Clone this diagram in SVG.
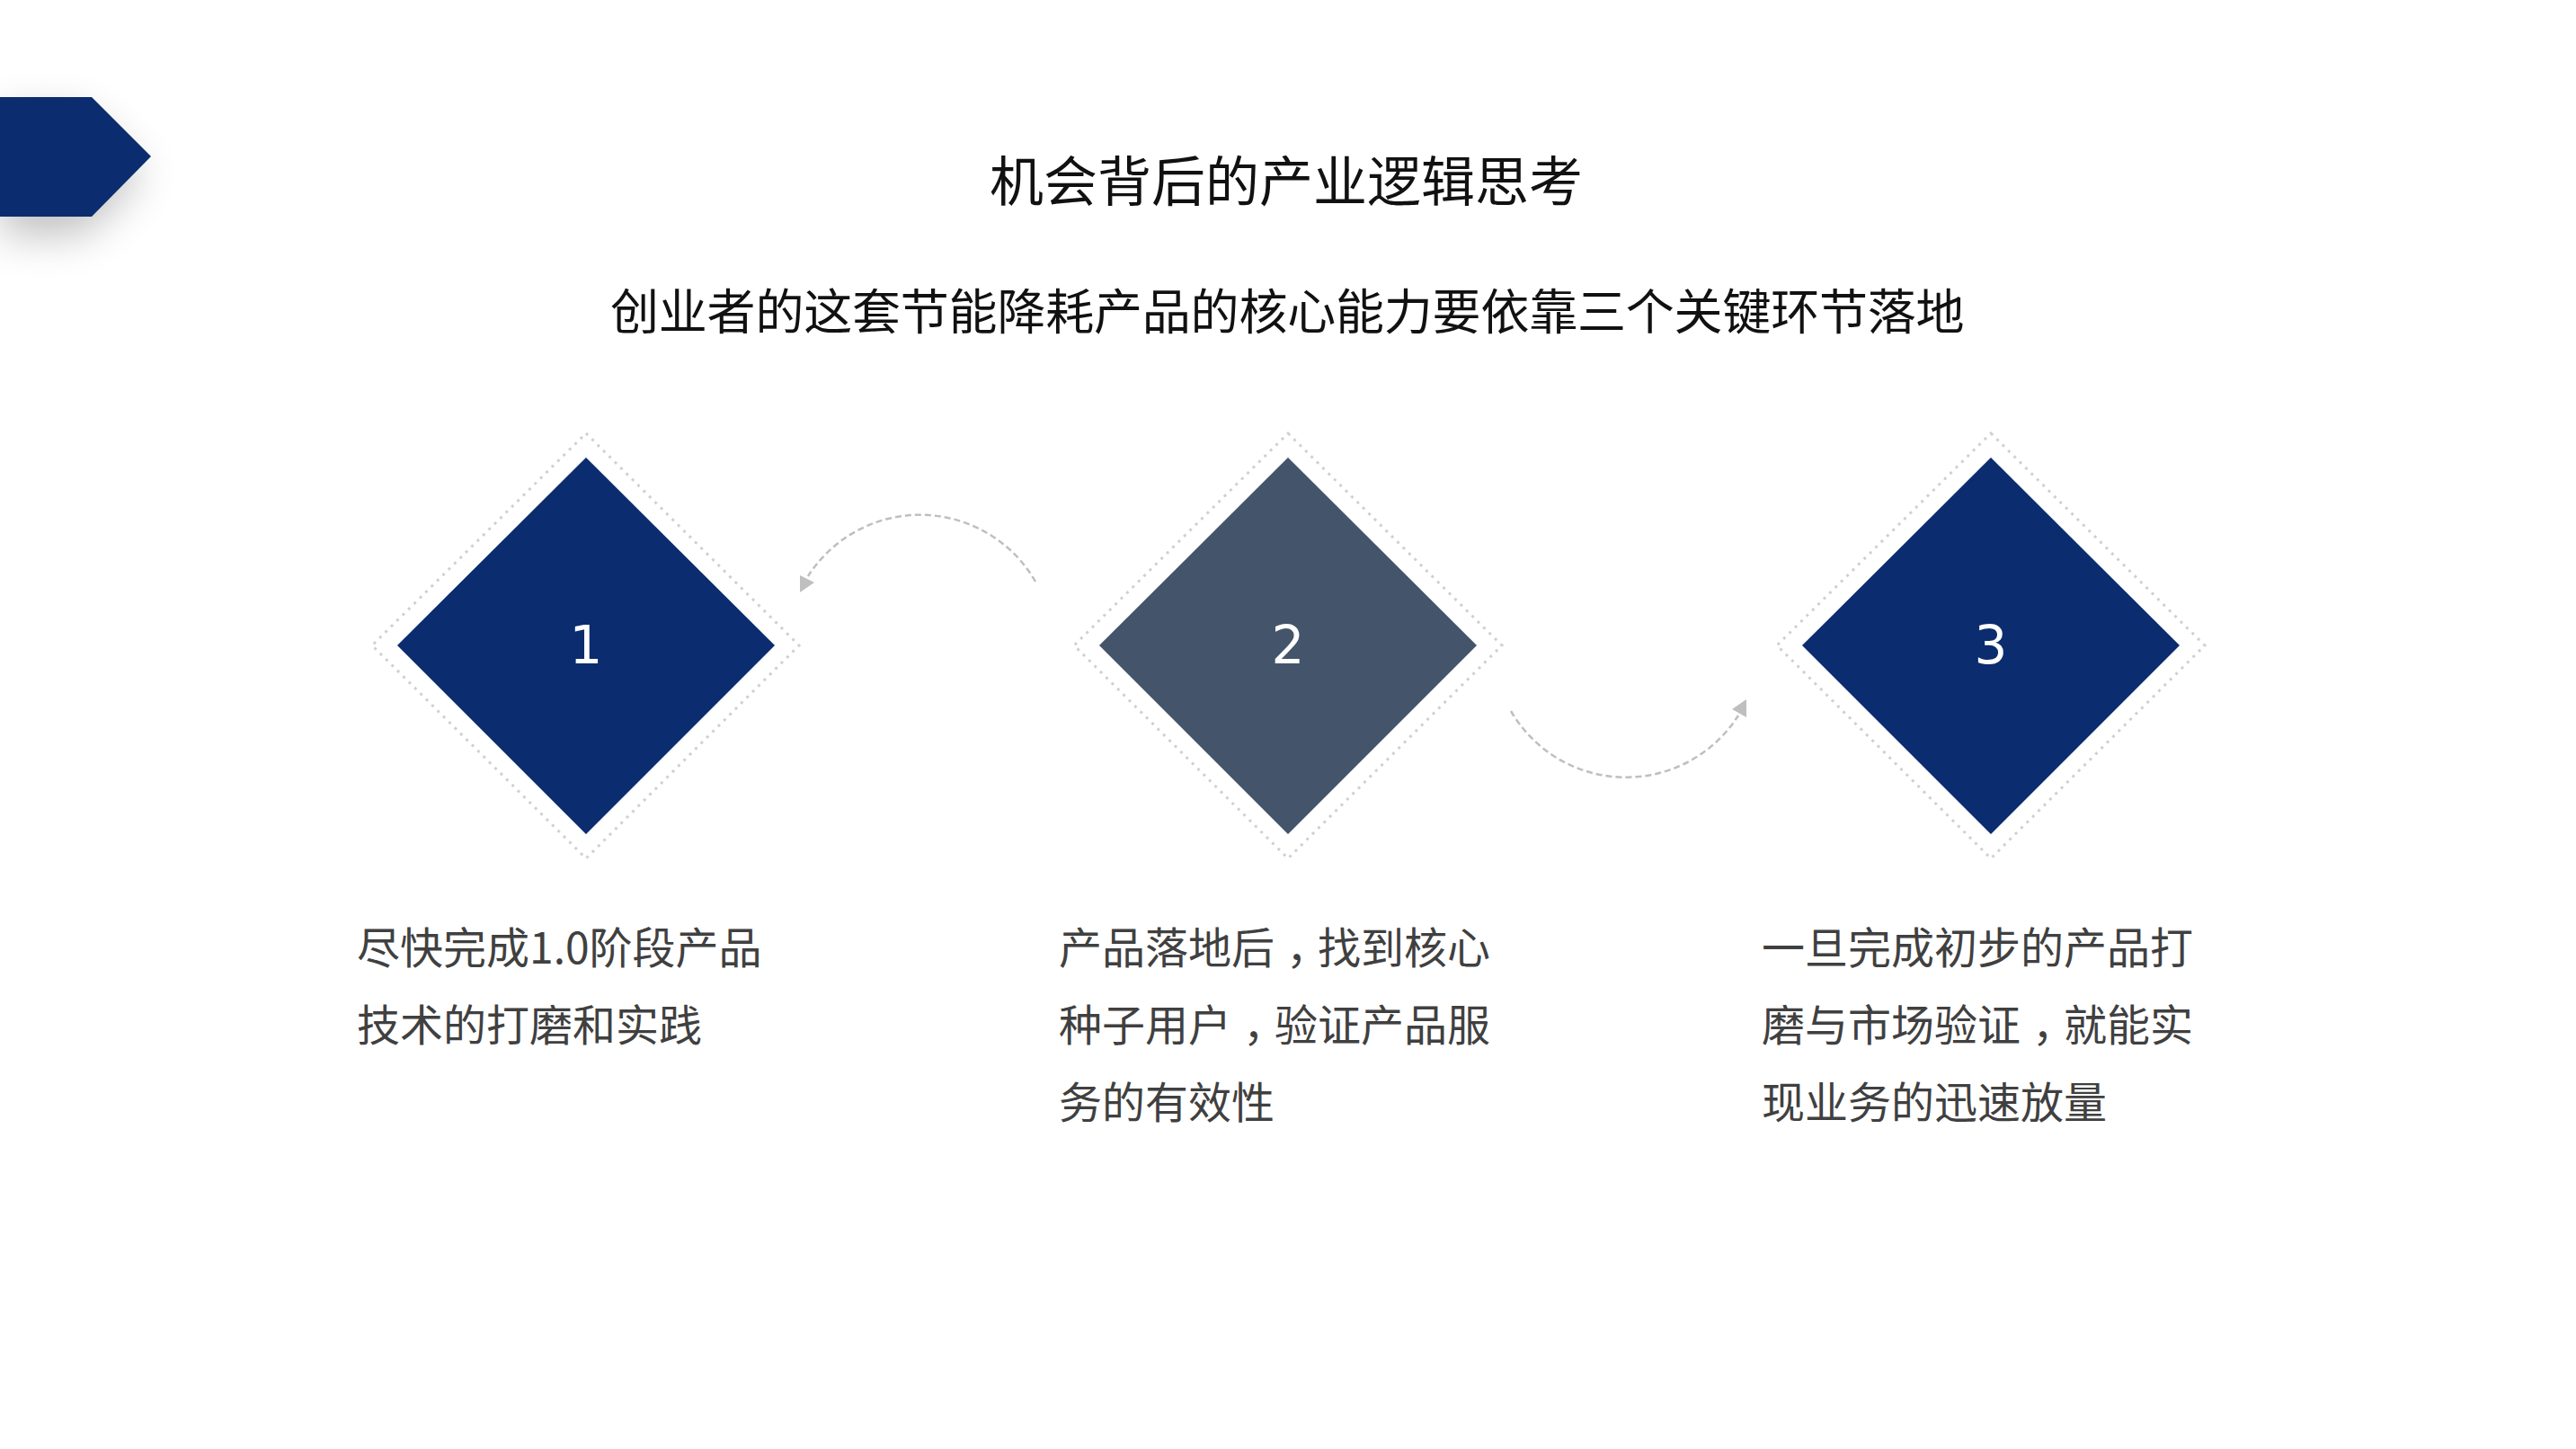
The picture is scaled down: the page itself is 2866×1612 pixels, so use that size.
<svg xmlns="http://www.w3.org/2000/svg" width="2866" height="1612" viewBox="0 0 2866 1612">
<style>
text{font-family:"Noto Sans CJK SC","Noto Sans",sans-serif}
.t{font-size:60px;fill:#111;font-weight:400}
.s{font-size:54px;fill:#111;font-weight:400;letter-spacing:-.2px}
.b{font-size:48px;fill:#404040;font-weight:400}
.k{letter-spacing:-13px}
.n{font-family:"DejaVu Sans","Noto Sans",sans-serif;font-size:58px;fill:#fff;text-anchor:middle}
.o{fill:none;stroke:#d0d0d0;stroke-width:3;stroke-dasharray:3 6}
.c{fill:none;stroke:#bfbfbf;stroke-width:2.5;stroke-dasharray:7 4}
.a{fill:#bfbfbf}
.navy{fill:#0b2c6e}
.slate{fill:#44546a}
</style>
<defs><filter id="sh" x="-50%" y="-50%" width="220%" height="220%"><feGaussianBlur stdDeviation="24"/></filter></defs>
<rect width="2866" height="1612" fill="#fff"/>
<g id="tab">
<polygon points="0,128 92,128 158,194 92,261 0,261" fill="#000" opacity=".25" filter="url(#sh)"/>
<polygon class="navy" points="0,108 102,108 168,174 102,241 0,241"/>
</g>
<g id="title"><text class="t" x="1101" y="224">机会背后的产业逻辑思考</text></g>
<g id="subtitle"><text class="s" x="679" y="367">创业者的这套节能降耗产品的核心能力要依靠三个关键环节落地</text></g>
<g id="connectors">
<path class="c" d="M1152,647A148,148 0 0 0 899,641"/>
<polygon class="a" points="890,640 906,648 890,659"/>
<path class="c" d="M1681,791A148,148 0 0 0 1934,796"/>
<polygon class="a" points="1943,778 1927,789 1943,798"/>
</g>
<g id="node1">
<polygon class="o" points="652,482 889,718 652,955 414,718"/>
<polygon class="navy" points="652,509 862,718 652,928 442,718"/>
<text class="n" x="652" y="738">1</text>
<text class="b"><tspan x="397" y="1072">尽快完成1.0阶段产品</tspan><tspan x="397" y="1158">技术的打磨和实践</tspan></text>
</g>
<g id="node2">
<polygon class="o" points="1433,482 1671,718 1433,955 1195,718"/>
<polygon class="slate" points="1433,509 1643,718 1433,928 1223,718"/>
<text class="n" x="1433" y="738">2</text>
<text class="b"><tspan x="1178" y="1072">产品落地后<tspan class="k" dx="13">，</tspan>找到核心</tspan><tspan x="1178" y="1158">种子用户<tspan class="k" dx="13">，</tspan>验证产品服</tspan><tspan x="1178" y="1244">务的有效性</tspan></text>
</g>
<g id="node3">
<polygon class="o" points="2215,482 2453,718 2215,955 1977,718"/>
<polygon class="navy" points="2215,509 2425,718 2215,928 2005,718"/>
<text class="n" x="2215" y="738">3</text>
<text class="b"><tspan x="1960" y="1072">一旦完成初步的产品打</tspan><tspan x="1960" y="1158">磨与市场验证<tspan class="k" dx="13">，</tspan>就能实</tspan><tspan x="1960" y="1244">现业务的迅速放量</tspan></text>
</g>
</svg>
